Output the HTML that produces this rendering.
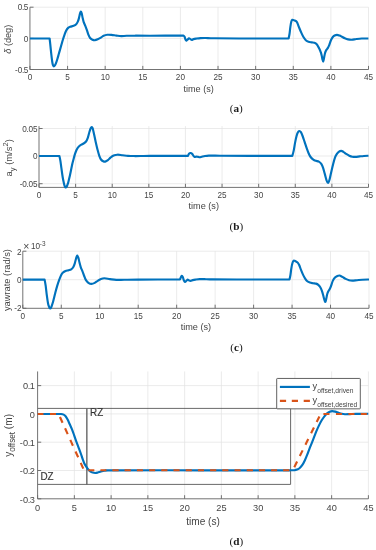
<!DOCTYPE html>
<html><head><meta charset="utf-8"><title>figure</title>
<style>
html,body{margin:0;padding:0;background:#fff;}
svg{display:block;}
text{font-family:"Liberation Sans",sans-serif;fill:#454545;}
.cap{font-family:"Liberation Serif",serif;font-weight:bold;fill:#1a1a1a;}
</style></head><body>
<svg width="376" height="550" viewBox="0 0 376 550">
<rect x="0" y="0" width="376" height="550" fill="#fff"/>
<g>
<line x1="67.57" y1="7.20" x2="67.57" y2="69.50" stroke="#e3e3e3" stroke-width="0.7"/>
<line x1="105.18" y1="7.20" x2="105.18" y2="69.50" stroke="#e3e3e3" stroke-width="0.7"/>
<line x1="142.80" y1="7.20" x2="142.80" y2="69.50" stroke="#e3e3e3" stroke-width="0.7"/>
<line x1="180.42" y1="7.20" x2="180.42" y2="69.50" stroke="#e3e3e3" stroke-width="0.7"/>
<line x1="218.03" y1="7.20" x2="218.03" y2="69.50" stroke="#e3e3e3" stroke-width="0.7"/>
<line x1="255.65" y1="7.20" x2="255.65" y2="69.50" stroke="#e3e3e3" stroke-width="0.7"/>
<line x1="293.27" y1="7.20" x2="293.27" y2="69.50" stroke="#e3e3e3" stroke-width="0.7"/>
<line x1="330.88" y1="7.20" x2="330.88" y2="69.50" stroke="#e3e3e3" stroke-width="0.7"/>
<line x1="368.50" y1="7.20" x2="368.50" y2="69.50" stroke="#e3e3e3" stroke-width="0.7"/>
<line x1="29.95" y1="7.20" x2="368.50" y2="7.20" stroke="#e3e3e3" stroke-width="0.7"/>
<line x1="29.95" y1="38.40" x2="368.50" y2="38.40" stroke="#e3e3e3" stroke-width="0.7"/>
<path d="M29.95 7.20 V69.50 H368.50" fill="none" stroke="#6c6c6c" stroke-width="0.95"/>
<path d="M29.95 69.50 v-3.60M67.57 69.50 v-3.60M105.18 69.50 v-3.60M142.80 69.50 v-3.60M180.42 69.50 v-3.60M218.03 69.50 v-3.60M255.65 69.50 v-3.60M293.27 69.50 v-3.60M330.88 69.50 v-3.60M368.50 69.50 v-3.60M29.95 7.20 h3.60M29.95 38.40 h3.60M29.95 69.50 h3.60" fill="none" stroke="#6c6c6c" stroke-width="0.95"/>
<path d="M29.95 38.50 C29.95 38.50 49.60 38.50 49.60 38.50 C49.60 38.50 49.93 41.12 50.20 43.60 C50.47 46.08 50.87 50.42 51.20 53.40 C51.53 56.38 51.92 59.57 52.20 61.50 C52.48 63.43 52.65 64.20 52.90 65.00 C53.15 65.80 53.40 66.18 53.70 66.30 C54.00 66.42 54.33 66.18 54.70 65.70 C55.07 65.22 55.47 64.47 55.90 63.40 C56.33 62.33 56.77 61.05 57.30 59.30 C57.83 57.55 58.48 55.07 59.10 52.90 C59.72 50.73 60.38 48.45 61.00 46.30 C61.62 44.15 62.22 41.90 62.80 40.00 C63.38 38.10 63.95 36.45 64.50 34.90 C65.05 33.35 65.53 31.83 66.10 30.70 C66.67 29.57 67.22 28.75 67.90 28.10 C68.58 27.45 69.25 27.18 70.20 26.80 C71.15 26.42 72.60 26.23 73.60 25.80 C74.60 25.37 75.50 24.90 76.20 24.20 C76.90 23.50 77.35 22.57 77.80 21.60 C78.25 20.63 78.53 19.73 78.90 18.40 C79.27 17.07 79.68 14.75 80.00 13.60 C80.32 12.45 80.52 11.57 80.80 11.50 C81.08 11.43 81.40 12.15 81.70 13.20 C82.00 14.25 82.27 16.32 82.60 17.80 C82.93 19.28 83.25 20.77 83.70 22.10 C84.15 23.43 84.77 24.47 85.30 25.80 C85.83 27.13 86.37 28.58 86.90 30.10 C87.43 31.62 87.97 33.58 88.50 34.90 C89.03 36.22 89.45 37.20 90.10 38.00 C90.75 38.80 91.62 39.33 92.40 39.70 C93.18 40.07 93.92 40.27 94.80 40.20 C95.68 40.13 96.67 39.75 97.70 39.30 C98.73 38.85 100.02 38.08 101.00 37.50 C101.98 36.92 102.57 36.25 103.60 35.80 C104.63 35.35 105.88 34.95 107.20 34.80 C108.52 34.65 109.95 34.77 111.50 34.90 C113.05 35.03 114.87 35.40 116.50 35.60 C118.13 35.80 119.62 36.07 121.30 36.10 C122.98 36.13 124.38 35.87 126.60 35.80 C128.82 35.73 130.70 35.72 134.60 35.70 C138.50 35.68 141.85 35.72 150.00 35.70 C158.15 35.68 183.50 35.60 183.50 35.60 C183.50 35.60 184.25 35.98 184.60 36.70 C184.95 37.42 185.28 39.25 185.60 39.90 C185.92 40.55 186.13 40.68 186.50 40.60 C186.87 40.52 187.38 39.78 187.80 39.40 C188.22 39.02 188.57 38.35 189.00 38.30 C189.43 38.25 189.93 38.83 190.40 39.10 C190.87 39.37 191.27 39.90 191.80 39.90 C192.33 39.90 192.85 39.32 193.60 39.10 C194.35 38.88 195.15 38.77 196.30 38.60 C197.45 38.43 198.90 38.20 200.50 38.10 C202.10 38.00 203.48 37.97 205.90 38.00 C208.32 38.03 207.65 38.22 215.00 38.30 C222.35 38.38 237.73 38.47 250.00 38.50 C262.27 38.53 288.60 38.50 288.60 38.50 C288.60 38.50 289.22 35.85 289.50 34.00 C289.78 32.15 290.02 29.40 290.30 27.40 C290.58 25.40 290.87 23.27 291.20 22.00 C291.53 20.73 291.77 20.07 292.30 19.80 C292.83 19.53 293.70 20.12 294.40 20.40 C295.10 20.68 295.97 20.97 296.50 21.50 C297.03 22.03 297.13 22.52 297.60 23.60 C298.07 24.68 298.67 26.45 299.30 28.00 C299.93 29.55 300.68 31.35 301.40 32.90 C302.12 34.45 302.87 36.08 303.60 37.30 C304.33 38.52 304.98 39.45 305.80 40.20 C306.62 40.95 307.50 41.43 308.50 41.80 C309.50 42.17 310.80 42.23 311.80 42.40 C312.80 42.57 313.68 42.48 314.50 42.80 C315.32 43.12 316.02 43.53 316.70 44.30 C317.38 45.07 318.05 46.42 318.60 47.40 C319.15 48.38 319.60 49.28 320.00 50.20 C320.40 51.12 320.70 51.93 321.00 52.90 C321.30 53.87 321.57 54.95 321.80 56.00 C322.03 57.05 322.17 58.25 322.40 59.20 C322.63 60.15 322.97 61.70 323.20 61.70 C323.43 61.70 323.60 60.15 323.80 59.20 C324.00 58.25 324.20 57.00 324.40 56.00 C324.60 55.00 324.77 54.03 325.00 53.20 C325.23 52.37 325.50 51.63 325.80 51.00 C326.10 50.37 326.45 49.92 326.80 49.40 C327.15 48.88 327.53 48.53 327.90 47.90 C328.27 47.27 328.65 46.45 329.00 45.60 C329.35 44.75 329.62 43.82 330.00 42.80 C330.38 41.78 330.83 40.47 331.30 39.50 C331.77 38.53 332.25 37.67 332.80 37.00 C333.35 36.33 333.90 35.87 334.60 35.50 C335.30 35.13 336.18 34.80 337.00 34.80 C337.82 34.80 338.67 35.17 339.50 35.50 C340.33 35.83 341.12 36.33 342.00 36.80 C342.88 37.27 343.80 37.87 344.80 38.30 C345.80 38.73 346.83 39.17 348.00 39.40 C349.17 39.63 350.40 39.77 351.80 39.70 C353.20 39.63 354.73 39.20 356.40 39.00 C358.07 38.80 359.80 38.58 361.80 38.50 C363.80 38.42 367.30 38.50 368.40 38.50" fill="none" stroke="#0072BD" stroke-width="2.15" stroke-linejoin="round" stroke-linecap="butt"/>
<text transform="translate(29.95 80.10) scale(1.000 1)" font-size="8.20" text-anchor="middle">0</text>
<text transform="translate(67.57 80.10) scale(1.000 1)" font-size="8.20" text-anchor="middle">5</text>
<text transform="translate(105.18 80.10) scale(1.000 1)" font-size="8.20" text-anchor="middle">10</text>
<text transform="translate(142.80 80.10) scale(1.000 1)" font-size="8.20" text-anchor="middle">15</text>
<text transform="translate(180.42 80.10) scale(1.000 1)" font-size="8.20" text-anchor="middle">20</text>
<text transform="translate(218.03 80.10) scale(1.000 1)" font-size="8.20" text-anchor="middle">25</text>
<text transform="translate(255.65 80.10) scale(1.000 1)" font-size="8.20" text-anchor="middle">30</text>
<text transform="translate(293.27 80.10) scale(1.000 1)" font-size="8.20" text-anchor="middle">35</text>
<text transform="translate(330.88 80.10) scale(1.000 1)" font-size="8.20" text-anchor="middle">40</text>
<text transform="translate(368.50 80.10) scale(1.000 1)" font-size="8.20" text-anchor="middle">45</text>
<text transform="translate(28.35 9.95) scale(1.000 1)" font-size="8.20" text-anchor="end">0<tspan dx="-0.4">.</tspan><tspan dx="-0.4">5</tspan></text>
<text transform="translate(28.35 41.85) scale(1.000 1)" font-size="8.20" text-anchor="end">0</text>
<text transform="translate(28.35 72.75) scale(1.000 1)" font-size="8.20" text-anchor="end">-0<tspan dx="-0.4">.</tspan><tspan dx="-0.4">5</tspan></text>
<text x="198.62" y="91.50" font-size="9.15" text-anchor="middle">time (s)</text>
<text transform="translate(10.80 39.25) rotate(-90)" font-size="9.15" text-anchor="middle"><tspan font-style="italic" font-size="9.2">δ</tspan> (deg)</text>
<text class="cap" x="236.20" y="111.80" font-size="11.20" text-anchor="middle"><tspan font-weight="normal">(</tspan>a<tspan font-weight="normal">)</tspan></text>
</g>
<g>
<line x1="75.61" y1="126.10" x2="75.61" y2="187.40" stroke="#e3e3e3" stroke-width="0.7"/>
<line x1="112.22" y1="126.10" x2="112.22" y2="187.40" stroke="#e3e3e3" stroke-width="0.7"/>
<line x1="148.83" y1="126.10" x2="148.83" y2="187.40" stroke="#e3e3e3" stroke-width="0.7"/>
<line x1="185.44" y1="126.10" x2="185.44" y2="187.40" stroke="#e3e3e3" stroke-width="0.7"/>
<line x1="222.06" y1="126.10" x2="222.06" y2="187.40" stroke="#e3e3e3" stroke-width="0.7"/>
<line x1="258.67" y1="126.10" x2="258.67" y2="187.40" stroke="#e3e3e3" stroke-width="0.7"/>
<line x1="295.28" y1="126.10" x2="295.28" y2="187.40" stroke="#e3e3e3" stroke-width="0.7"/>
<line x1="331.89" y1="126.10" x2="331.89" y2="187.40" stroke="#e3e3e3" stroke-width="0.7"/>
<line x1="368.50" y1="126.10" x2="368.50" y2="187.40" stroke="#e3e3e3" stroke-width="0.7"/>
<line x1="39.00" y1="128.50" x2="368.50" y2="128.50" stroke="#e3e3e3" stroke-width="0.7"/>
<line x1="39.00" y1="156.00" x2="368.50" y2="156.00" stroke="#e3e3e3" stroke-width="0.7"/>
<line x1="39.00" y1="183.70" x2="368.50" y2="183.70" stroke="#e3e3e3" stroke-width="0.7"/>
<path d="M39.00 126.10 V187.40 H368.50" fill="none" stroke="#6c6c6c" stroke-width="0.95"/>
<path d="M39.00 187.40 v-3.60M75.61 187.40 v-3.60M112.22 187.40 v-3.60M148.83 187.40 v-3.60M185.44 187.40 v-3.60M222.06 187.40 v-3.60M258.67 187.40 v-3.60M295.28 187.40 v-3.60M331.89 187.40 v-3.60M368.50 187.40 v-3.60M39.00 128.50 h3.60M39.00 156.00 h3.60M39.00 183.70 h3.60" fill="none" stroke="#6c6c6c" stroke-width="0.95"/>
<path d="M39.00 156.00 C39.00 156.00 59.40 156.00 59.40 156.00 C59.40 156.00 60.07 158.87 60.40 160.90 C60.73 162.93 61.02 165.47 61.40 168.20 C61.78 170.93 62.30 174.88 62.70 177.30 C63.10 179.72 63.48 181.27 63.80 182.70 C64.12 184.13 64.37 185.17 64.60 185.90 C64.83 186.63 65.00 186.83 65.20 187.10 C65.40 187.37 65.58 187.52 65.80 187.50 C66.02 187.48 66.27 187.33 66.50 187.00 C66.73 186.67 66.90 186.28 67.20 185.50 C67.50 184.72 67.88 183.82 68.30 182.30 C68.72 180.78 69.24 178.45 69.70 176.40 C70.16 174.35 70.60 172.13 71.05 170.00 C71.50 167.87 71.94 165.57 72.40 163.60 C72.86 161.63 73.35 159.87 73.80 158.20 C74.25 156.53 74.67 154.93 75.10 153.60 C75.53 152.27 75.97 151.17 76.40 150.20 C76.83 149.23 77.20 148.50 77.70 147.80 C78.20 147.10 78.93 146.45 79.40 146.00 C79.87 145.55 79.82 145.52 80.50 145.10 C81.18 144.68 82.58 144.10 83.50 143.50 C84.42 142.90 85.28 142.45 86.00 141.50 C86.72 140.55 87.23 139.38 87.80 137.80 C88.37 136.22 88.92 133.60 89.40 132.00 C89.88 130.40 90.32 129.03 90.70 128.20 C91.08 127.37 91.37 126.97 91.70 127.00 C92.03 127.03 92.32 127.23 92.70 128.40 C93.08 129.57 93.50 131.75 94.00 134.00 C94.50 136.25 95.10 139.25 95.70 141.90 C96.30 144.55 97.00 147.57 97.60 149.90 C98.20 152.23 98.73 154.30 99.30 155.90 C99.87 157.50 100.35 158.61 101.00 159.50 C101.65 160.39 102.50 160.90 103.20 161.25 C103.90 161.60 104.42 161.78 105.20 161.60 C105.98 161.42 107.02 160.87 107.90 160.20 C108.78 159.53 109.55 158.38 110.50 157.60 C111.45 156.82 112.45 155.98 113.60 155.50 C114.75 155.02 115.90 154.74 117.40 154.70 C118.90 154.66 120.83 155.06 122.60 155.25 C124.37 155.44 126.10 155.72 128.00 155.85 C129.90 155.98 131.67 156.03 134.00 156.05 C136.33 156.08 139.33 156.03 142.00 156.00 C144.67 155.97 142.33 155.93 150.00 155.90 C157.67 155.87 188.00 155.80 188.00 155.80 C188.00 155.80 188.57 154.17 189.00 153.70 C189.43 153.23 190.07 152.97 190.60 153.00 C191.13 153.03 191.75 153.47 192.20 153.90 C192.65 154.33 192.88 155.10 193.30 155.60 C193.72 156.10 194.17 156.73 194.70 156.90 C195.23 157.07 195.93 156.60 196.50 156.60 C197.07 156.60 197.57 156.80 198.10 156.90 C198.63 157.00 199.08 157.23 199.70 157.20 C200.32 157.17 200.92 156.90 201.80 156.70 C202.68 156.50 203.85 156.18 205.00 156.00 C206.15 155.82 207.20 155.67 208.70 155.60 C210.20 155.53 212.12 155.57 214.00 155.60 C215.88 155.63 214.00 155.75 220.00 155.80 C226.00 155.85 237.95 155.88 250.00 155.90 C262.05 155.92 292.30 155.90 292.30 155.90 C292.30 155.90 293.23 152.82 293.70 150.60 C294.17 148.38 294.63 144.98 295.10 142.60 C295.57 140.22 296.05 137.97 296.50 136.30 C296.95 134.63 297.33 133.48 297.80 132.60 C298.27 131.72 298.78 131.07 299.30 131.00 C299.82 130.93 300.35 131.37 300.90 132.20 C301.45 133.03 301.98 134.38 302.60 136.00 C303.22 137.62 303.93 139.97 304.60 141.95 C305.27 143.93 305.93 146.02 306.60 147.90 C307.27 149.78 307.93 151.73 308.60 153.25 C309.27 154.77 309.82 155.94 310.60 157.00 C311.38 158.06 312.42 158.97 313.30 159.60 C314.18 160.23 314.97 160.47 315.90 160.80 C316.82 161.13 317.95 161.08 318.85 161.60 C319.75 162.12 320.59 162.85 321.30 163.90 C322.01 164.95 322.52 166.23 323.10 167.90 C323.68 169.57 324.25 171.91 324.80 173.90 C325.35 175.89 325.87 178.33 326.40 179.85 C326.93 181.37 327.48 183.01 328.00 183.00 C328.52 182.99 328.97 181.60 329.50 179.80 C330.03 178.00 330.60 174.80 331.20 172.20 C331.80 169.60 332.46 166.67 333.10 164.20 C333.74 161.73 334.42 159.12 335.05 157.40 C335.68 155.68 336.29 154.83 336.90 153.90 C337.51 152.97 337.98 152.32 338.70 151.80 C339.42 151.28 340.42 150.80 341.20 150.80 C341.98 150.80 342.52 151.28 343.35 151.80 C344.18 152.32 345.21 153.25 346.20 153.90 C347.19 154.55 348.28 155.23 349.30 155.70 C350.32 156.17 351.28 156.50 352.30 156.70 C353.32 156.90 354.17 156.95 355.40 156.90 C356.63 156.85 358.28 156.56 359.70 156.40 C361.12 156.24 362.43 156.07 363.90 155.95 C365.37 155.83 367.73 155.74 368.50 155.70" fill="none" stroke="#0072BD" stroke-width="2.15" stroke-linejoin="round" stroke-linecap="butt"/>
<text transform="translate(39.00 198.30) scale(1.000 1)" font-size="8.20" text-anchor="middle">0</text>
<text transform="translate(75.61 198.30) scale(1.000 1)" font-size="8.20" text-anchor="middle">5</text>
<text transform="translate(112.22 198.30) scale(1.000 1)" font-size="8.20" text-anchor="middle">10</text>
<text transform="translate(148.83 198.30) scale(1.000 1)" font-size="8.20" text-anchor="middle">15</text>
<text transform="translate(185.44 198.30) scale(1.000 1)" font-size="8.20" text-anchor="middle">20</text>
<text transform="translate(222.06 198.30) scale(1.000 1)" font-size="8.20" text-anchor="middle">25</text>
<text transform="translate(258.67 198.30) scale(1.000 1)" font-size="8.20" text-anchor="middle">30</text>
<text transform="translate(295.28 198.30) scale(1.000 1)" font-size="8.20" text-anchor="middle">35</text>
<text transform="translate(331.89 198.30) scale(1.000 1)" font-size="8.20" text-anchor="middle">40</text>
<text transform="translate(368.50 198.30) scale(1.000 1)" font-size="8.20" text-anchor="middle">45</text>
<text transform="translate(37.50 131.85) scale(1.000 1)" font-size="8.20" text-anchor="end">0<tspan dx="-0.4">.</tspan><tspan dx="-0.4">05</tspan></text>
<text transform="translate(37.50 159.35) scale(1.000 1)" font-size="8.20" text-anchor="end">0</text>
<text transform="translate(37.50 187.15) scale(1.000 1)" font-size="8.20" text-anchor="end">-0<tspan dx="-0.4">.</tspan><tspan dx="-0.4">05</tspan></text>
<text x="203.75" y="209.35" font-size="9.15" text-anchor="middle">time (s)</text>
<text transform="translate(11.80 157.85) rotate(-90)" font-size="9.40" text-anchor="middle">a<tspan dy="3.6" font-size="7.6">y</tspan><tspan dy="-3.6"> (m/s</tspan><tspan dy="-3.6" font-size="7.6">2</tspan><tspan dy="3.6">)</tspan></text>
<text class="cap" x="236.40" y="229.80" font-size="11.20" text-anchor="middle"><tspan font-weight="normal">(</tspan>b<tspan font-weight="normal">)</tspan></text>
</g>
<g>
<line x1="61.27" y1="251.20" x2="61.27" y2="308.30" stroke="#e3e3e3" stroke-width="0.7"/>
<line x1="99.73" y1="251.20" x2="99.73" y2="308.30" stroke="#e3e3e3" stroke-width="0.7"/>
<line x1="138.20" y1="251.20" x2="138.20" y2="308.30" stroke="#e3e3e3" stroke-width="0.7"/>
<line x1="176.67" y1="251.20" x2="176.67" y2="308.30" stroke="#e3e3e3" stroke-width="0.7"/>
<line x1="215.13" y1="251.20" x2="215.13" y2="308.30" stroke="#e3e3e3" stroke-width="0.7"/>
<line x1="253.60" y1="251.20" x2="253.60" y2="308.30" stroke="#e3e3e3" stroke-width="0.7"/>
<line x1="292.07" y1="251.20" x2="292.07" y2="308.30" stroke="#e3e3e3" stroke-width="0.7"/>
<line x1="330.53" y1="251.20" x2="330.53" y2="308.30" stroke="#e3e3e3" stroke-width="0.7"/>
<line x1="369.00" y1="251.20" x2="369.00" y2="308.30" stroke="#e3e3e3" stroke-width="0.7"/>
<line x1="22.80" y1="251.20" x2="369.00" y2="251.20" stroke="#e3e3e3" stroke-width="0.7"/>
<line x1="22.80" y1="279.70" x2="369.00" y2="279.70" stroke="#e3e3e3" stroke-width="0.7"/>
<path d="M22.80 251.20 V308.30 H369.00" fill="none" stroke="#6c6c6c" stroke-width="0.95"/>
<path d="M22.80 308.30 v-3.60M61.27 308.30 v-3.60M99.73 308.30 v-3.60M138.20 308.30 v-3.60M176.67 308.30 v-3.60M215.13 308.30 v-3.60M253.60 308.30 v-3.60M292.07 308.30 v-3.60M330.53 308.30 v-3.60M369.00 308.30 v-3.60M22.80 251.20 h3.60M22.80 279.70 h3.60M22.80 308.30 h3.60" fill="none" stroke="#6c6c6c" stroke-width="0.95"/>
<path d="M22.80 279.60 C22.80 279.60 44.60 279.60 44.60 279.60 C44.60 279.60 45.33 283.30 45.70 285.90 C46.07 288.50 46.42 292.32 46.80 295.20 C47.18 298.08 47.62 301.23 48.00 303.20 C48.38 305.17 48.83 306.18 49.10 307.00 C49.37 307.82 49.42 307.87 49.60 308.10 C49.78 308.33 49.98 308.43 50.20 308.40 C50.42 308.37 50.67 308.25 50.90 307.90 C51.13 307.55 51.22 307.42 51.60 306.30 C51.98 305.18 52.60 303.38 53.20 301.20 C53.80 299.02 54.53 295.75 55.20 293.20 C55.87 290.65 56.53 288.12 57.20 285.90 C57.87 283.68 58.55 281.67 59.20 279.90 C59.85 278.12 60.47 276.47 61.10 275.25 C61.73 274.03 62.27 273.31 63.00 272.60 C63.73 271.89 64.57 271.40 65.50 271.00 C66.43 270.60 67.65 270.48 68.60 270.20 C69.55 269.92 70.43 269.78 71.20 269.30 C71.97 268.82 72.60 268.30 73.20 267.30 C73.80 266.30 74.30 264.85 74.80 263.30 C75.30 261.75 75.80 259.28 76.20 258.00 C76.60 256.72 76.85 255.67 77.20 255.60 C77.55 255.53 77.92 256.43 78.30 257.60 C78.68 258.77 79.08 260.98 79.50 262.60 C79.92 264.22 80.30 265.85 80.80 267.30 C81.30 268.75 81.97 269.93 82.50 271.30 C83.03 272.67 83.45 274.07 84.00 275.50 C84.55 276.93 85.07 278.68 85.80 279.90 C86.53 281.12 87.45 282.13 88.40 282.80 C89.35 283.47 90.45 283.88 91.50 283.90 C92.55 283.92 93.67 283.42 94.70 282.90 C95.73 282.38 96.72 281.42 97.70 280.80 C98.68 280.18 99.50 279.62 100.60 279.20 C101.70 278.78 102.75 278.32 104.30 278.30 C105.85 278.28 107.90 278.83 109.90 279.10 C111.90 279.37 113.90 279.78 116.30 279.90 C118.70 280.02 120.68 279.85 124.30 279.80 C127.92 279.75 128.72 279.65 138.00 279.60 C147.28 279.55 180.00 279.50 180.00 279.50 C180.00 279.50 180.40 278.30 180.70 277.70 C181.00 277.10 181.43 275.98 181.80 275.90 C182.17 275.82 182.55 276.45 182.90 277.20 C183.25 277.95 183.50 279.60 183.90 280.40 C184.30 281.20 184.83 282.00 185.30 282.00 C185.77 282.00 186.30 280.80 186.70 280.40 C187.10 280.00 187.32 279.60 187.70 279.60 C188.08 279.60 188.52 280.18 189.00 280.40 C189.48 280.62 189.98 280.94 190.60 280.90 C191.22 280.86 191.90 280.37 192.70 280.15 C193.50 279.93 194.23 279.78 195.40 279.60 C196.57 279.43 197.93 279.17 199.70 279.10 C201.47 279.03 203.95 279.15 206.00 279.20 C208.05 279.25 204.67 279.35 212.00 279.40 C219.33 279.45 237.09 279.48 250.00 279.50 C262.91 279.52 289.45 279.50 289.45 279.50 C289.45 279.50 290.09 277.12 290.40 275.30 C290.71 273.48 290.97 270.60 291.30 268.60 C291.63 266.60 292.00 264.63 292.40 263.30 C292.80 261.97 293.15 260.93 293.70 260.60 C294.25 260.27 295.03 260.97 295.70 261.30 C296.37 261.63 297.10 261.93 297.70 262.60 C298.30 263.27 298.75 264.08 299.30 265.30 C299.85 266.52 300.38 268.35 301.00 269.90 C301.62 271.45 302.33 273.20 303.00 274.60 C303.67 276.00 304.28 277.19 305.00 278.30 C305.72 279.41 306.48 280.53 307.30 281.25 C308.12 281.97 308.95 282.28 309.90 282.60 C310.85 282.93 311.98 283.03 313.00 283.20 C314.02 283.37 315.12 283.33 316.00 283.60 C316.88 283.87 317.58 284.20 318.30 284.80 C319.02 285.40 319.68 286.13 320.30 287.20 C320.92 288.27 321.47 289.65 322.00 291.20 C322.53 292.75 323.07 294.95 323.50 296.50 C323.93 298.05 324.27 299.60 324.60 300.50 C324.93 301.40 325.22 302.22 325.50 301.90 C325.78 301.58 326.05 299.75 326.30 298.60 C326.55 297.45 326.77 296.00 327.00 295.00 C327.23 294.00 327.45 293.27 327.70 292.60 C327.95 291.93 328.18 291.55 328.50 291.00 C328.82 290.45 329.25 289.93 329.60 289.30 C329.95 288.67 330.28 287.98 330.60 287.20 C330.92 286.42 331.12 285.70 331.50 284.60 C331.88 283.50 332.32 281.78 332.90 280.60 C333.48 279.42 334.32 278.23 335.00 277.50 C335.68 276.77 336.27 276.52 337.00 276.20 C337.73 275.88 338.52 275.43 339.40 275.55 C340.28 275.67 341.25 276.34 342.30 276.90 C343.35 277.46 344.58 278.35 345.70 278.90 C346.82 279.45 347.90 279.92 349.00 280.20 C350.10 280.48 350.97 280.60 352.30 280.60 C353.63 280.60 355.33 280.35 357.00 280.20 C358.67 280.05 360.30 279.82 362.30 279.70 C364.30 279.58 367.88 279.53 369.00 279.50" fill="none" stroke="#0072BD" stroke-width="2.15" stroke-linejoin="round" stroke-linecap="butt"/>
<text transform="translate(22.80 319.20) scale(1.000 1)" font-size="8.20" text-anchor="middle">0</text>
<text transform="translate(61.27 319.20) scale(1.000 1)" font-size="8.20" text-anchor="middle">5</text>
<text transform="translate(99.73 319.20) scale(1.000 1)" font-size="8.20" text-anchor="middle">10</text>
<text transform="translate(138.20 319.20) scale(1.000 1)" font-size="8.20" text-anchor="middle">15</text>
<text transform="translate(176.67 319.20) scale(1.000 1)" font-size="8.20" text-anchor="middle">20</text>
<text transform="translate(215.13 319.20) scale(1.000 1)" font-size="8.20" text-anchor="middle">25</text>
<text transform="translate(253.60 319.20) scale(1.000 1)" font-size="8.20" text-anchor="middle">30</text>
<text transform="translate(292.07 319.20) scale(1.000 1)" font-size="8.20" text-anchor="middle">35</text>
<text transform="translate(330.53 319.20) scale(1.000 1)" font-size="8.20" text-anchor="middle">40</text>
<text transform="translate(369.00 319.20) scale(1.000 1)" font-size="8.20" text-anchor="middle">45</text>
<text transform="translate(21.45 254.95) scale(1.000 1)" font-size="8.20" text-anchor="end">2</text>
<text transform="translate(21.45 282.65) scale(1.000 1)" font-size="8.20" text-anchor="end">0</text>
<text transform="translate(21.45 311.15) scale(1.000 1)" font-size="8.20" text-anchor="end">-2</text>
<text x="195.90" y="330.25" font-size="9.15" text-anchor="middle">time (s)</text>
<text transform="translate(10.00 280.05) rotate(-90)" font-size="9.30" text-anchor="middle">yawrate (rad/s)</text>
<text class="cap" x="236.40" y="351.00" font-size="11.20" text-anchor="middle"><tspan font-weight="normal">(</tspan>c<tspan font-weight="normal">)</tspan></text>
<text x="23.3" y="250.1" font-size="10.4">×</text><text x="30.9" y="248.9" font-size="8.2">10</text><text x="39.8" y="245.8" font-size="6.4">-3</text>
</g>
<g>
<line x1="74.36" y1="371.45" x2="74.36" y2="498.80" stroke="#e3e3e3" stroke-width="0.7"/>
<line x1="111.11" y1="371.45" x2="111.11" y2="498.80" stroke="#e3e3e3" stroke-width="0.7"/>
<line x1="147.87" y1="371.45" x2="147.87" y2="498.80" stroke="#e3e3e3" stroke-width="0.7"/>
<line x1="184.62" y1="371.45" x2="184.62" y2="498.80" stroke="#e3e3e3" stroke-width="0.7"/>
<line x1="221.38" y1="371.45" x2="221.38" y2="498.80" stroke="#e3e3e3" stroke-width="0.7"/>
<line x1="258.13" y1="371.45" x2="258.13" y2="498.80" stroke="#e3e3e3" stroke-width="0.7"/>
<line x1="294.89" y1="371.45" x2="294.89" y2="498.80" stroke="#e3e3e3" stroke-width="0.7"/>
<line x1="331.64" y1="371.45" x2="331.64" y2="498.80" stroke="#e3e3e3" stroke-width="0.7"/>
<line x1="368.40" y1="371.45" x2="368.40" y2="498.80" stroke="#e3e3e3" stroke-width="0.7"/>
<line x1="37.60" y1="385.60" x2="368.40" y2="385.60" stroke="#e3e3e3" stroke-width="0.7"/>
<line x1="37.60" y1="413.90" x2="368.40" y2="413.90" stroke="#e3e3e3" stroke-width="0.7"/>
<line x1="37.60" y1="442.20" x2="368.40" y2="442.20" stroke="#e3e3e3" stroke-width="0.7"/>
<line x1="37.60" y1="470.50" x2="368.40" y2="470.50" stroke="#e3e3e3" stroke-width="0.7"/>
<path d="M37.6 408.4 H290.6 V484.4 H37.6" fill="none" stroke="#4e4e4e" stroke-width="0.85"/><path d="M86.85 408.4 V484.4" fill="none" stroke="#5a5a5a" stroke-width="1.3"/>
<path d="M37.60 371.45 V498.80 H368.40" fill="none" stroke="#6c6c6c" stroke-width="0.95"/>
<path d="M37.60 498.80 v-3.60M74.36 498.80 v-3.60M111.11 498.80 v-3.60M147.87 498.80 v-3.60M184.62 498.80 v-3.60M221.38 498.80 v-3.60M258.13 498.80 v-3.60M294.89 498.80 v-3.60M331.64 498.80 v-3.60M368.40 498.80 v-3.60M37.60 385.60 h3.60M37.60 413.90 h3.60M37.60 442.20 h3.60M37.60 470.50 h3.60M37.60 498.80 h3.60" fill="none" stroke="#6c6c6c" stroke-width="0.95"/>
<path d="M37.60 414.00 C37.60 414.00 52.10 413.99 56.00 414.00 C59.90 414.01 59.73 413.95 61.00 414.05 C62.27 414.15 62.83 414.23 63.60 414.60 C64.37 414.98 64.93 415.47 65.60 416.30 C66.27 417.13 66.91 418.27 67.60 419.60 C68.29 420.93 69.00 422.63 69.75 424.30 C70.50 425.97 71.35 427.72 72.10 429.60 C72.85 431.48 73.54 433.60 74.25 435.60 C74.96 437.60 75.62 439.61 76.35 441.60 C77.07 443.59 77.86 445.57 78.60 447.55 C79.34 449.53 80.13 451.62 80.80 453.50 C81.47 455.38 82.01 457.18 82.60 458.85 C83.19 460.52 83.72 462.18 84.35 463.50 C84.98 464.82 85.74 465.80 86.40 466.80 C87.06 467.80 87.67 468.75 88.30 469.50 C88.93 470.25 89.47 470.78 90.20 471.30 C90.93 471.82 91.87 472.32 92.70 472.60 C93.53 472.88 94.35 473.02 95.20 473.00 C96.05 472.98 96.83 472.75 97.80 472.50 C98.77 472.25 99.88 471.80 101.00 471.50 C102.12 471.20 103.33 470.89 104.50 470.70 C105.67 470.51 106.42 470.42 108.00 470.35 C109.58 470.28 98.67 470.31 114.00 470.30 C129.33 470.29 172.33 470.30 200.00 470.30 C227.67 470.30 265.00 470.30 280.00 470.30 C295.00 470.30 287.58 470.32 290.00 470.30 C292.42 470.28 293.33 470.32 294.50 470.20 C295.67 470.08 296.17 469.92 297.00 469.60 C297.83 469.28 298.63 469.03 299.50 468.30 C300.37 467.57 301.30 466.55 302.20 465.20 C303.10 463.85 303.98 462.15 304.90 460.20 C305.82 458.25 306.77 455.83 307.70 453.50 C308.63 451.17 309.55 448.63 310.50 446.20 C311.45 443.77 312.45 441.33 313.40 438.90 C314.35 436.47 315.28 433.82 316.20 431.60 C317.12 429.38 317.98 427.48 318.90 425.60 C319.82 423.72 320.78 421.85 321.70 420.30 C322.62 418.75 323.50 417.45 324.40 416.30 C325.30 415.15 326.22 414.17 327.10 413.40 C327.98 412.62 328.85 412.03 329.70 411.65 C330.55 411.27 331.27 411.10 332.20 411.10 C333.13 411.10 334.25 411.37 335.30 411.65 C336.35 411.93 337.42 412.44 338.50 412.80 C339.58 413.16 340.72 413.57 341.80 413.80 C342.88 414.03 343.63 414.15 345.00 414.20 C346.37 414.25 348.17 414.15 350.00 414.10 C351.83 414.05 352.95 413.95 356.00 413.90 C359.05 413.85 366.25 413.82 368.30 413.80" fill="none" stroke="#0072BD" stroke-width="2.15" stroke-linejoin="round" stroke-linecap="butt"/>
<path d="M37.60 414.00 C37.60 414.00 58.60 414.00 58.60 414.00" fill="none" stroke="#D95319" stroke-width="2.15" stroke-linejoin="round" stroke-linecap="butt" stroke-dasharray="6.1 6.1"/>
<path d="M58.60 414.00 C58.60 414.00 84.00 470.20 84.00 470.20" fill="none" stroke="#D95319" stroke-width="2.15" stroke-linejoin="round" stroke-linecap="butt" stroke-dasharray="6.2 6.35" stroke-dashoffset="9.15"/>
<path d="M84.00 470.20 C84.00 470.20 292.80 470.20 292.80 470.20" fill="none" stroke="#D95319" stroke-width="2.15" stroke-linejoin="round" stroke-linecap="butt" stroke-dasharray="6.1 6.07" stroke-dashoffset="7.82"/>
<path d="M292.80 470.20 C292.80 470.20 320.70 414.00 320.70 414.00" fill="none" stroke="#D95319" stroke-width="2.15" stroke-linejoin="round" stroke-linecap="butt" stroke-dasharray="6.2 6.35" stroke-dashoffset="9.10"/>
<path d="M320.70 414.00 C320.70 414.00 368.40 414.00 368.40 414.00" fill="none" stroke="#D95319" stroke-width="2.15" stroke-linejoin="round" stroke-linecap="butt" stroke-dasharray="6.0 6.37" stroke-dashoffset="9.47"/>
<text transform="translate(37.60 511.30) scale(0.950 1)" font-size="9.70" text-anchor="middle">0</text>
<text transform="translate(74.36 511.30) scale(0.950 1)" font-size="9.70" text-anchor="middle">5</text>
<text transform="translate(111.11 511.30) scale(0.950 1)" font-size="9.70" text-anchor="middle">10</text>
<text transform="translate(147.87 511.30) scale(0.950 1)" font-size="9.70" text-anchor="middle">15</text>
<text transform="translate(184.62 511.30) scale(0.950 1)" font-size="9.70" text-anchor="middle">20</text>
<text transform="translate(221.38 511.30) scale(0.950 1)" font-size="9.70" text-anchor="middle">25</text>
<text transform="translate(258.13 511.30) scale(0.950 1)" font-size="9.70" text-anchor="middle">30</text>
<text transform="translate(294.89 511.30) scale(0.950 1)" font-size="9.70" text-anchor="middle">35</text>
<text transform="translate(331.64 511.30) scale(0.950 1)" font-size="9.70" text-anchor="middle">40</text>
<text transform="translate(368.40 511.30) scale(0.950 1)" font-size="9.70" text-anchor="middle">45</text>
<text transform="translate(35.00 389.19) scale(0.950 1)" font-size="9.70" text-anchor="end">0<tspan dx="-0.4">.</tspan><tspan dx="-0.4">1</tspan></text>
<text transform="translate(35.00 417.69) scale(0.950 1)" font-size="9.70" text-anchor="end">0</text>
<text transform="translate(35.00 445.99) scale(0.950 1)" font-size="9.70" text-anchor="end">-0<tspan dx="-0.4">.</tspan><tspan dx="-0.4">1</tspan></text>
<text transform="translate(35.00 474.29) scale(0.950 1)" font-size="9.70" text-anchor="end">-0<tspan dx="-0.4">.</tspan><tspan dx="-0.4">2</tspan></text>
<text transform="translate(35.00 502.69) scale(0.950 1)" font-size="9.70" text-anchor="end">-0<tspan dx="-0.4">.</tspan><tspan dx="-0.4">3</tspan></text>
<text x="203.00" y="525.00" font-size="10.10" text-anchor="middle">time (s)</text>
<text transform="translate(11.60 435.43) rotate(-90)" font-size="10.10" text-anchor="middle">y<tspan dy="3" font-size="8.2">offset</tspan><tspan dy="-3"> (m)</tspan></text>
<text class="cap" x="236.40" y="545.20" font-size="11.20" text-anchor="middle"><tspan font-weight="normal">(</tspan>d<tspan font-weight="normal">)</tspan></text>
<text transform="translate(90.1 416.1) scale(0.94 1)" font-size="10.5" fill="#111" stroke="#111" stroke-width="0.15">RZ</text><text transform="translate(40.4 480.0) scale(0.94 1)" font-size="10.5" fill="#111" stroke="#111" stroke-width="0.15">DZ</text><rect x="276.7" y="378.45" width="83.6" height="30.4" rx="0.6" fill="#fff" stroke="#505050" stroke-width="0.9"/><path d="M279.9 386.9 H309.9" stroke="#0072BD" stroke-width="2.15" fill="none"/><path d="M279.9 400.9 H309.9" stroke="#D95319" stroke-width="2.15" stroke-dasharray="6.2 5.7" fill="none"/><text x="312.5" y="389.4" font-size="9.3">y<tspan dy="3.4" font-size="6.7">offset,driven</tspan></text><text x="312.5" y="403.2" font-size="9.3">y<tspan dy="3.4" font-size="6.7">offset,desired</tspan></text>
</g>
</svg>
</body></html>
